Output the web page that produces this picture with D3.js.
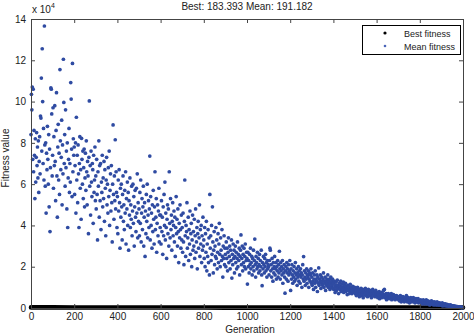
<!DOCTYPE html>
<html><head><meta charset="utf-8">
<script src="https://cdn.jsdelivr.net/npm/d3@7"></script>
<style>
html,body{margin:0;padding:0;background:#fff;}
svg{display:block;font-family:"Liberation Sans",Arial,sans-serif;}
</style></head>
<body><svg id="c" width="474" height="335"></svg>
<script>
// ---- data (fitness values in units of 10^4) ----
const titleText = "Best: 183.393 Mean: 191.182";
const xTicks = [0,200,400,600,800,1000,1200,1400,1600,1800,2000];
const yTicks = [0,2,4,6,8,10,12,14];
const legendLabels = ["Best fitness","Mean fitness"];
const meanGenStep = 2;   // one mean value read every 2 generations
const meanFitness = [
8.4,10.35,9.6,10.7,7.2,10.6,6.6,8.6,7.4,5.3,8.2,6.1,7.3,8.5,6.9,7.8,6.3,8.1,5.6,7.1,8.3,6.5,9.3,9.2,11.14,7.6,12.56,10.0,7.0,8.7,6.2,13.66,7.9,5.9,8.0,4.6,7.5,6.7,8.8,7.2,6.0,8.4,4.9,7.7,3.7,6.8,10.66,10.6,9.4,6.4,
7.4,9.7,5.8,8.3,6.9,9.8,7.1,5.2,8.6,10.43,6.4,4.4,7.8,8.9,6.2,7.5,5.5,11.55,8.1,6.7,7.3,9.1,5.0,7.9,6.5,12.05,9.96,7.0,8.4,5.9,9.6,6.8,7.6,4.8,8.0,3.9,6.3,7.2,8.7,5.6,7.0,6.1,10.92,10.12,7.7,5.4,11.85,6.6,8.2,7.4,
7.8,5.5,6.9,8.0,4.6,9.24,6.2,7.4,5.1,7.9,6.5,3.9,7.0,8.3,5.8,6.7,4.3,8.22,7.2,6.0,7.6,5.3,6.8,7.7,4.9,6.3,7.5,5.7,8.1,6.6,5.0,7.1,6.4,3.6,7.3,10.03,5.9,6.9,4.5,7.6,6.1,5.4,7.0,6.7,4.1,7.4,5.6,6.2,7.8,5.2,
6.4,4.8,7.2,5.5,3.3,6.6,5.9,8.1,4.4,6.9,5.2,7.0,3.8,6.1,5.6,7.4,4.9,6.3,5.3,7.1,4.2,6.7,5.8,3.5,6.2,7.3,5.0,6.0,4.6,6.8,5.4,7.6,4.0,5.7,6.5,4.7,6.9,5.1,3.2,6.0,8.87,5.5,4.3,6.4,5.2,8.15,4.8,6.6,5.6,3.9,
5.4,3.6,6.2,4.7,6.7,5.1,2.9,5.8,4.4,6.0,4.9,3.3,5.5,6.4,4.2,5.0,3.8,5.7,4.6,6.6,3.1,5.3,4.8,6.1,4.0,5.6,2.8,5.2,4.5,6.3,3.9,5.0,4.3,5.9,3.5,4.7,6.0,4.1,5.4,3.0,4.9,5.7,4.4,3.7,5.8,4.6,6.5,3.4,5.1,4.2,
4.8,3.5,5.6,4.1,6.2,3.2,4.6,5.3,3.8,4.9,5.9,3.0,4.4,5.1,2.5,4.7,3.6,5.5,4.2,6.0,3.4,4.5,5.2,3.9,4.8,7.36,3.3,5.4,4.0,4.6,2.9,5.0,3.7,5.7,4.3,3.1,4.9,6.6,3.8,4.4,5.3,2.7,4.1,5.0,3.5,4.7,5.8,3.2,4.5,3.9,
4.5,3.1,5.2,3.7,4.4,2.6,4.9,3.5,5.5,4.0,6.1,3.3,4.6,3.9,2.4,4.3,5.0,3.6,4.8,3.0,6.6,4.1,3.4,5.3,3.8,4.5,2.8,4.2,5.1,3.5,4.0,4.7,3.2,4.4,2.5,3.9,5.4,3.6,4.3,3.0,4.8,3.7,2.2,4.1,3.4,5.0,3.8,2.9,4.5,3.3,
3.9,2.7,4.6,3.2,2.1,4.2,6.2,3.5,2.5,4.0,3.7,5.1,2.9,3.4,4.4,2.3,3.8,3.1,4.7,2.6,3.6,4.1,2.0,3.3,4.5,2.8,3.7,3.0,4.3,2.4,3.5,4.8,2.7,3.2,3.9,1.9,3.6,4.2,2.9,3.4,5.0,2.5,3.8,3.1,4.0,2.2,3.5,2.8,4.4,3.0,
3.3,2.4,3.9,2.0,3.6,2.7,4.2,1.8,3.1,2.5,3.8,2.2,3.4,1.6,5.5,2.9,3.5,2.3,4.0,2.6,4.9,3.2,1.7,2.8,3.7,2.1,3.0,2.5,3.9,2.4,3.3,1.9,2.7,3.6,2.2,3.1,4.1,2.6,2.0,3.4,2.8,2.3,3.8,2.5,1.5,3.0,2.4,3.5,2.1,2.9,
2.6,2.0,3.2,2.4,2.9,1.8,2.7,3.4,2.2,2.5,3.0,1.9,2.8,2.3,3.3,1.45,2.6,2.1,3.1,2.4,2.8,1.7,2.5,3.0,2.2,2.7,1.9,2.4,3.2,2.0,2.6,2.3,2.9,1.6,2.5,2.8,3.54,2.1,2.4,3.0,1.8,2.6,2.2,2.9,2.0,2.5,3.1,1.9,2.3,2.7,
2.4,1.16,2.7,2.0,2.3,1.7,2.6,2.1,2.9,1.9,2.2,2.5,1.6,2.4,2.0,2.8,1.8,2.3,3.34,2.1,1.5,2.5,2.2,1.9,2.7,2.0,2.4,1.7,2.1,2.6,1.8,2.3,2.0,2.8,1.6,1.08,2.2,1.9,2.5,2.1,1.7,2.4,2.0,2.6,1.8,2.2,1.5,2.3,1.9,2.1,
2.0,1.6,2.3,2.9,2.8,1.8,2.1,1.5,2.4,1.9,1.3,2.2,1.7,2.0,2.5,1.6,1.9,2.2,1.4,2.0,1.8,2.3,1.5,2.1,1.7,2.75,1.9,1.4,2.2,1.8,2.0,1.6,2.3,1.2,1.9,1.7,2.1,1.5,0.72,1.8,2.0,1.4,2.2,1.7,1.9,1.3,2.1,1.6,1.8,2.3,
1.7,0.85,1.9,1.4,2.1,1.6,1.2,1.8,1.5,2.0,1.3,1.7,2.2,1.4,1.6,1.9,1.1,1.7,1.5,2.0,1.3,1.8,1.6,1.2,1.9,1.5,1.7,1.0,1.6,2.1,1.4,2.49,1.3,1.8,1.5,1.1,1.7,1.4,1.9,1.2,1.6,1.5,1.8,1.0,1.4,1.7,1.3,1.6,1.9,1.2,
1.5,1.1,1.7,1.3,0.9,1.4,1.6,1.2,1.8,1.0,1.4,1.3,1.6,0.8,1.5,1.2,1.94,1.1,1.4,1.3,1.6,0.95,1.2,1.5,1.3,1.1,1.4,1.7,1.0,1.3,1.2,1.5,0.85,1.3,1.1,1.4,1.2,1.6,1.0,1.3,1.1,1.4,0.9,1.2,1.5,1.0,1.3,1.1,1.4,0.95,
1.2,0.9,1.3,1.0,0.75,1.1,1.25,0.85,1.0,1.35,0.95,1.1,0.7,1.0,1.2,0.9,1.05,1.3,0.8,1.0,1.15,0.85,0.95,1.25,0.75,1.0,1.1,0.9,1.2,0.8,0.95,1.05,0.65,0.9,1.1,0.85,1.0,0.7,0.95,1.15,0.8,0.9,1.0,0.7,0.85,1.05,0.75,0.9,0.8,1.0,
0.9,0.7,0.95,0.6,0.85,0.75,1.0,0.65,0.8,0.9,0.55,0.75,0.85,0.7,0.95,0.6,0.8,0.7,0.9,0.5,0.75,0.85,0.65,0.8,0.95,0.6,0.7,0.85,0.75,0.55,0.8,0.9,0.65,0.75,0.6,0.85,0.7,0.8,0.5,0.75,0.65,0.9,0.7,0.6,0.8,0.7,0.55,0.75,0.85,0.65,
0.7,0.55,0.75,0.5,0.65,0.6,0.8,0.45,0.7,0.55,0.65,0.75,0.5,0.6,0.7,0.55,0.85,0.6,0.9,0.5,0.65,0.55,0.7,0.4,0.6,0.65,0.5,0.7,0.55,0.45,0.6,0.65,0.5,0.55,0.7,0.4,0.6,0.5,0.55,0.65,0.45,0.5,0.6,0.4,0.55,0.5,0.6,0.45,0.5,0.55,
0.5,0.4,0.55,0.35,0.45,0.6,0.4,0.3,0.5,0.45,0.35,0.55,0.4,0.45,0.3,0.5,0.4,0.35,0.45,0.6,0.4,0.3,0.45,0.5,0.35,0.4,0.25,0.45,0.4,0.5,0.35,0.3,0.45,0.4,0.35,0.5,0.3,0.4,0.35,0.25,0.4,0.45,0.3,0.35,0.4,0.3,0.45,0.25,0.35,0.3,
0.35,0.3,0.4,0.25,0.3,0.35,0.2,0.3,0.4,0.25,0.3,0.2,0.35,0.25,0.3,0.4,0.2,0.25,0.3,0.35,0.2,0.25,0.3,0.15,0.25,0.3,0.2,0.35,0.25,0.2,0.3,0.25,0.15,0.2,0.3,0.25,0.2,0.15,0.25,0.2,0.3,0.15,0.2,0.25,0.15,0.2,0.25,0.15,0.2,0.15,
0.2,0.15,0.25,0.1,0.18,0.15,0.2,0.12,0.15,0.2,0.1,0.15,0.12,0.18,0.1,0.15,0.12,0.08,0.14,0.1,0.12,0.15,0.08,0.1,0.12,0.09,0.1,0.07,0.1,0.08,0.06,0.09,0.07,0.05,0.08,0.06,0.05,0.07,0.04,0.05,0.06,0.04,0.03,0.05,0.04,0.03,0.03,0.02,0.03,0.02
];
const bestGens = [0,100,200,300,400,500,600,700,800,900,1000,1100,1200,1300,1400,1500,1600,1700,1800,1900,2000];
const bestFitness = [0.03,0.028,0.026,0.025,0.024,0.023,0.022,0.021,0.021,0.02,0.02,0.0198,0.0196,0.0194,0.0192,0.019,0.0188,0.0186,0.0185,0.0184,0.01834];

// ---- drawing ----
const svg = d3.select("#c");
const L = 31, R = 463, T = 19, B = 308;
const x = d3.scaleLinear().domain([0,2000]).range([L,R]);
const y = d3.scaleLinear().domain([0,14]).range([B,T]);
const blue = "#2f4ba2";
const txt = "#222";

svg.append("rect").attr("x",L).attr("y",T).attr("width",R-L).attr("height",B-T).attr("fill","#fff");

// best fitness (dense black markers -> thick band)
const bestLine = d3.line().x((d,i)=>x(bestGens[i])).y(d=>y(d));
svg.append("path").datum(bestFitness).attr("d",bestLine)
  .attr("fill","none").attr("stroke","#000").attr("stroke-width",4.6).attr("stroke-linecap","round");

// mean fitness
svg.append("g").selectAll("circle").data(meanFitness).join("circle")
  .attr("cx",(d,i)=>x(i*meanGenStep)).attr("cy",d=>y(d)).attr("r",1.85).attr("fill",blue);

// axes
function styleAxis(g){
  g.selectAll("path").attr("stroke","#444").attr("stroke-width",1);
  g.selectAll("line").attr("stroke","#444");
  g.selectAll("text").attr("fill",txt).style("font-size","10px").style("font-family","'Liberation Sans',Arial,sans-serif");
}
svg.append("g").attr("transform",`translate(0,${B})`)
  .call(d3.axisBottom(x).tickValues(xTicks).tickFormat(d3.format("d")).tickSizeInner(-4).tickSizeOuter(0).tickPadding(5)).call(styleAxis);
svg.append("g").attr("transform",`translate(0,${T})`)
  .call(d3.axisTop(x).tickValues(xTicks).tickFormat("").tickSizeInner(-4).tickSizeOuter(0)).call(styleAxis);
svg.append("g").attr("transform",`translate(${L},0)`)
  .call(d3.axisLeft(y).tickValues(yTicks).tickFormat(d3.format("d")).tickSizeInner(-4).tickSizeOuter(0).tickPadding(5)).call(styleAxis);
svg.append("g").attr("transform",`translate(${R},0)`)
  .call(d3.axisRight(y).tickValues(yTicks).tickFormat("").tickSizeInner(-4).tickSizeOuter(0)).call(styleAxis);

// exponent label
const ex = svg.append("text").attr("x",L+1).attr("y",13).attr("fill",txt).style("font-size","10px");
ex.append("tspan").text("x 10");
ex.append("tspan").attr("dy",-5).style("font-size","7px").text("4");

// title
svg.append("text").attr("x",(L+R)/2).attr("y",10).attr("text-anchor","middle")
  .attr("fill",txt).style("font-size","10px").text(titleText);

// axis labels
svg.append("text").attr("x",(L+R)/2+3).attr("y",333).attr("text-anchor","middle")
  .attr("fill",txt).style("font-size","10px").text("Generation");
svg.append("text").attr("transform","translate(9,158) rotate(-90)").attr("text-anchor","middle")
  .attr("fill",txt).style("font-size","10px").text("Fitness value");

// legend
const lg = svg.append("g");
lg.append("rect").attr("x",362.5).attr("y",25.5).attr("width",98).attr("height",29)
  .attr("fill","#fff").attr("stroke","#000").attr("stroke-width",1);
const legColors = ["#000", "#4a64b8"];
legendLabels.forEach((lab,i)=>{
  const yy = 33 + i*13;
  lg.append("circle").attr("cx",385).attr("cy",yy).attr("r",i===0?1.6:1.3).attr("fill",legColors[i]);
  lg.append("text").attr("x",404).attr("y",yy+3.5).attr("fill",txt).style("font-size","9px").text(lab);
});
</script></body></html>
